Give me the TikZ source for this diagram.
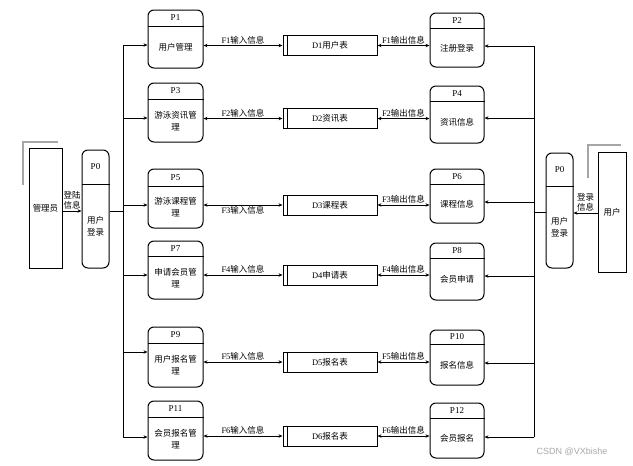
\documentclass[tikz,border=0pt]{standalone}
\usepackage{fontspec}
\setmainfont{Liberation Serif}
\newfontfamily\cjk{Noto Sans CJK SC}
\newfontfamily\wmfont{Liberation Sans}
\usetikzlibrary{arrows.meta,calc}
\newcommand{\ltn}[1]{{\rmfamily #1}}
% process box: name, centre, width, height, header depth, id, text
\newcommand{\procbox}[7]{%
  \node[proc, minimum width=#3, minimum height=#4] (#1) at (#2) {};
  \draw[frame] ([yshift=-#5pt]#1.north west) -- ([yshift=-#5pt]#1.north east);
  \node[pid] (#1id) at ($(#1.north west)!0.5!([yshift=-#5pt]#1.north east)$) {#6};
  \node[ptext] (#1txt) at ($([yshift=-#5pt]#1.north west)!0.5!(#1.south east)$) {#7};
}
% data store: name, centre, text
\newcommand{\storebox}[3]{%
  \node[store] (#1) at (#2) {#3};
  \draw[frame] ([xshift=5pt]#1.north west) -- ([xshift=5pt]#1.south west);
}

\begin{document}
\begin{tikzpicture}[
  x=1pt, y=-1pt,
  >={Stealth[length=4pt,width=3.4pt]},
  frame/.style={line width=1pt},
  proc/.style={draw, line width=1pt, rounded corners=6pt, inner sep=0pt},
  pid/.style={font=\fontsize{9}{10}\selectfont, inner sep=0pt},
  ptext/.style={font=\cjk\fontsize{8.5}{12}\selectfont, align=center, inner sep=0pt},
  store/.style={draw, line width=1pt, minimum width=94, minimum height=20,
    inner sep=0pt, font=\cjk\fontsize{8.5}{10}\selectfont},
  ent/.style={draw, line width=1pt, inner sep=0pt, font=\cjk\fontsize{8.5}{10}\selectfont},
  shadowline/.style={gray!70, line width=2pt},
  flow/.style={line width=0.9pt},
  lab/.style={font=\cjk\fontsize{8.5}{10}\selectfont, inner sep=1pt, align=center}
]
\useasboundingbox (0,0) rectangle (633,466);
% ---- external entities ----
\node[ent, minimum width=33, minimum height=120] (admin) at (45.5,208) {管理员};
\draw[shadowline] ($(admin.north west)+(-6,37)$) -- ($(admin.north west)+(-6,-6)$)
  -- ($(admin.north east)+(-5,-6)$);
\node[ent, minimum width=28, minimum height=120] (user) at (612,212) {用户};
\draw[shadowline] ($(user.north west)+(-10,26)$) -- ($(user.north west)+(-10,-7)$)
  -- ($(user.north east)+(-6,-7)$);
% ---- login processes ----
\procbox{p0l}{95.5,209}{27}{118}{35}{P0}{用户\\登录}
\procbox{p0r}{559.5,210.5}{27}{115}{34}{P0}{用户\\登录}
% ---- left processes ----
\procbox{p1}{175.5,39}{55}{58}{17}{P1}{用户管理}
\procbox{p3}{175.5,112.5}{55}{59}{17}{P3}{游泳资讯管\\理}
\procbox{p5}{175.5,198.5}{55}{59}{18}{P5}{游泳课程管\\理}
\procbox{p7}{175.5,270}{55}{58}{16}{P7}{申请会员管\\理}
\procbox{p9}{175.5,357}{55}{60}{17}{P9}{用户报名管\\理}
\procbox{p11}{175.5,430.5}{55}{59}{17}{P11}{会员报名管\\理}
% ---- right processes ----
\procbox{p2}{457,40}{54}{54}{16}{P2}{注册登录}
\procbox{p4}{457,114.5}{54}{57}{16}{P4}{资讯信息}
\procbox{p6}{457,196}{54}{54}{16}{P6}{课程信息}
\procbox{p8}{457,271.5}{54}{57}{16}{P8}{会员申请}
\procbox{p10}{457,357.5}{54}{55}{15}{P10}{报名信息}
\procbox{p12}{457,430.5}{54}{55}{16}{P12}{会员报名}
% ---- data stores ----
\storebox{d1}{330,45.5}{\ltn{D1}用户表}
\storebox{d2}{330,118.5}{\ltn{D2}资讯表}
\storebox{d3}{330,205}{\ltn{D3}课程表}
\storebox{d4}{330,275}{\ltn{D4}申请表}
\storebox{d5}{330,362}{\ltn{D5}报名表}
\storebox{d6}{330,436}{\ltn{D6}报名表}
% ---- login flows ----
\coordinate (lj) at (123,211);
\coordinate (rj) at (534,212);
\coordinate (uj) at (586,213);
\draw[flow, ->] (admin.east |- lj) -- (lj -| p0l.west)
  node[midway, above, lab] {登陆\\信息};
\draw[flow, ->] (user.west |- uj) -- (uj -| p0r.east)
  node[midway, above, lab] {登录\\信息};
\draw[flow] (lj -| p0l.east) -- (lj);
\draw[flow] (rj -| p0r.west) -- (rj);
% ---- left trunk ----
\coordinate (l1) at (123,45);
\coordinate (l3) at (123,118);
\coordinate (l5) at (123,205);
\coordinate (l7) at (123,275);
\coordinate (l9) at (123,352);
\coordinate (l11) at (123,437);
\draw[flow] (l1) -- (l11);
\foreach \i in {1,3,5,7,9,11}
  \draw[flow, ->] (l\i) -- (l\i -| p\i.west);
% ---- right trunk ----
\coordinate (r2) at (534,46);
\coordinate (r4) at (534,118);
\coordinate (r6) at (534,202);
\coordinate (r8) at (534,276);
\coordinate (r10) at (534,363);
\coordinate (r12) at (534,437);
\draw[flow] (r2) -- (r12);
\foreach \i in {2,4,6,8,10,12}
  \draw[flow, ->] (r\i) -- (r\i -| p\i.east);
% ---- store flows ----
\draw[flow, <->] (p1.east |- d1) -- (d1.west) node[midway, above, lab] {\ltn{F1}输入信息};
\draw[flow, <->] (p3.east |- d2) -- (d2.west) node[midway, above, lab] {\ltn{F2}输入信息};
\draw[flow, <->] (p5.east |- d3) -- (d3.west) node[midway, below, lab] {\ltn{F3}输入信息};
\draw[flow, <->] (p7.east |- d4) -- (d4.west) node[midway, above, lab] {\ltn{F4}输入信息};
\draw[flow, <->] (p9.east |- d5) -- (d5.west) node[midway, above, lab] {\ltn{F5}输入信息};
\draw[flow, <->] (p11.east |- d6) -- (d6.west) node[midway, above, lab] {\ltn{F6}输入信息};
\draw[flow, <->] (d1.east) -- (d1 -| p2.west) node[midway, above, lab] {\ltn{F1}输出信息};
\draw[flow, <->] (d2.east) -- (d2 -| p4.west) node[midway, above, lab] {\ltn{F2}输出信息};
\draw[flow, <->] (d3.east) -- (d3 -| p6.west) node[midway, above, lab] {\ltn{F3}输出信息};
\draw[flow, <->] (d4.east) -- (d4 -| p8.west) node[midway, above, lab] {\ltn{F4}输出信息};
\draw[flow, <->] (d5.east) -- (d5 -| p10.west) node[midway, above, lab] {\ltn{F5}输出信息};
\draw[flow, <->] (d6.east) -- (d6 -| p12.west) node[midway, above, lab] {\ltn{F6}输出信息};
% ---- watermark ----
\node[font=\wmfont\fontsize{9}{10}\selectfont, text=gray!70, inner sep=0pt] (wm)
  at (572,452) {CSDN @VXbishe};
\end{tikzpicture}
\end{document}
